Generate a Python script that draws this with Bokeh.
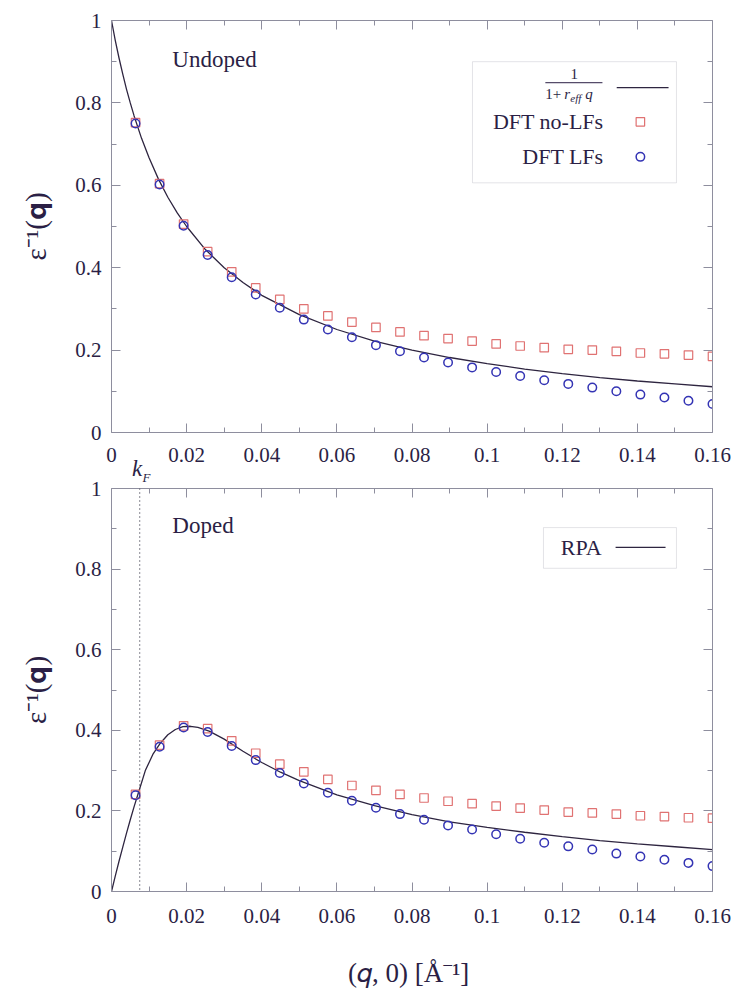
from bokeh.plotting import figure
from bokeh.models import (Range1d, FixedTicker, LinearAxis, Span, Label, BoxAnnotation,
                          CustomLabelingPolicy)
from bokeh.layouts import column
from bokeh.embed import file_html
from bokeh.resources import INLINE

# ---- data -------------------------------------------------------------
q_pts = [0.0064, 0.0128, 0.0192, 0.0256, 0.032, 0.0384, 0.0448, 0.0512, 0.0576,
         0.064, 0.0704, 0.0768, 0.0832, 0.0896, 0.096, 0.1024, 0.1088, 0.1152,
         0.1216, 0.128, 0.1344, 0.1408, 0.1472, 0.1536, 0.16]

undoped_nolf = [0.752, 0.604, 0.506, 0.439, 0.390, 0.351, 0.323, 0.300, 0.283,
                0.268, 0.255, 0.244, 0.235, 0.228, 0.222, 0.215, 0.210, 0.206,
                0.202, 0.200, 0.197, 0.193, 0.191, 0.188, 0.185]
undoped_lf = [0.750, 0.602, 0.502, 0.431, 0.377, 0.335, 0.303, 0.274, 0.250,
              0.231, 0.212, 0.197, 0.182, 0.170, 0.158, 0.147, 0.137, 0.127,
              0.118, 0.109, 0.100, 0.092, 0.085, 0.077, 0.069]

doped_nolf = [0.241, 0.363, 0.411, 0.404, 0.374, 0.343, 0.316, 0.297, 0.278,
              0.263, 0.251, 0.241, 0.232, 0.224, 0.218, 0.212, 0.207, 0.202,
              0.197, 0.195, 0.192, 0.188, 0.186, 0.183, 0.182]
doped_lf = [0.239, 0.359, 0.407, 0.396, 0.361, 0.326, 0.294, 0.268, 0.245,
            0.225, 0.208, 0.192, 0.178, 0.164, 0.154, 0.142, 0.131, 0.121,
            0.112, 0.104, 0.094, 0.087, 0.079, 0.071, 0.063]

# model screening 1/(1 + r_eff q), sampled
q_model = [0, 0.001, 0.002, 0.003, 0.004, 0.005, 0.006, 0.008, 0.01, 0.0125,
           0.015, 0.0175, 0.02, 0.025, 0.03, 0.035, 0.04, 0.05, 0.06, 0.07,
           0.08, 0.09, 0.1, 0.11, 0.12, 0.13, 0.14, 0.15, 0.16]
eps_model = [1.0, 0.952, 0.909, 0.870, 0.833, 0.800, 0.769, 0.714, 0.667, 0.615,
             0.571, 0.533, 0.500, 0.444, 0.400, 0.364, 0.333, 0.286, 0.250, 0.222,
             0.200, 0.182, 0.167, 0.154, 0.143, 0.133, 0.125, 0.118, 0.111]

# RPA for the doped system, sampled
q_rpa = [0, 0.001, 0.002, 0.003, 0.004, 0.005, 0.006, 0.007, 0.0075, 0.009,
         0.011, 0.013, 0.015, 0.017, 0.019, 0.021, 0.023, 0.026, 0.03, 0.035,
         0.04, 0.045, 0.05, 0.06, 0.07, 0.08, 0.09, 0.1, 0.11, 0.12, 0.13,
         0.14, 0.15, 0.16]
eps_rpa = [0.0, 0.038, 0.075, 0.110, 0.145, 0.178, 0.210, 0.240, 0.255, 0.300,
           0.340, 0.368, 0.389, 0.402, 0.409, 0.410, 0.407, 0.398, 0.378, 0.348,
           0.320, 0.296, 0.275, 0.240, 0.213, 0.191, 0.173, 0.159, 0.147, 0.136,
           0.126, 0.118, 0.111, 0.104]

k_F = 0.0075

x_ticks = [0, 0.02, 0.04, 0.06, 0.08, 0.1, 0.12, 0.14, 0.16]
x_tick_labels = ["0", "0.02", "0.04", "0.06", "0.08", "0.1", "0.12", "0.14", "0.16"]
x_minor = [0.01, 0.03, 0.05, 0.07, 0.09, 0.11, 0.13, 0.15]
y_ticks = [0, 0.2, 0.4, 0.6, 0.8, 1]
y_tick_labels = ["0", "0.2", "0.4", "0.6", "0.8", "1"]
y_minor = [0.1, 0.3, 0.5, 0.7, 0.9]

# ---- styles -----------------------------------------------------------
TXT = "#2b1f45"
AXC = "#8e8e9e"
CURVE = "#2e2540"
SQ = "#e07272"
CI = "#3434b4"
SERIF = "Liberation Serif"
MS = 8.5


def make_axis(ticks, minor, labels, show, standoff=10):
    ax = LinearAxis(ticker=FixedTicker(ticks=ticks, minor_ticks=minor))
    ax.axis_line_color = AXC
    ax.major_tick_line_color = AXC
    ax.minor_tick_line_color = AXC
    ax.major_tick_in = 9
    ax.major_tick_out = 0
    ax.minor_tick_in = 5
    ax.minor_tick_out = 0
    if show:
        ax.major_label_overrides = dict(zip(ticks, labels))
        ax.major_label_text_font = SERIF
        ax.major_label_text_font_size = "21px"
        ax.major_label_text_color = TXT
        ax.major_label_standoff = standoff
    else:
        # mirrored frame edge: ticks only
        ax.major_label_text_font_size = "0px"
        ax.major_label_standoff = 0
        ax.major_label_policy = CustomLabelingPolicy(code="return []")
    ax.axis_label_text_font = SERIF
    ax.axis_label_text_font_style = "normal"
    ax.axis_label_text_color = TXT
    return ax


def label_axis(ticks, labels, size, standoff, style="normal"):
    """An axis that only carries text (no line, no tick marks)."""
    ax = LinearAxis(ticker=FixedTicker(ticks=ticks, minor_ticks=[]))
    ax.axis_line_color = None
    ax.major_tick_line_color = None
    ax.minor_tick_line_color = None
    ax.major_tick_in = 0
    ax.major_tick_out = 0
    ax.minor_tick_in = 0
    ax.minor_tick_out = 0
    ax.major_label_overrides = dict(zip(ticks, labels))
    ax.major_label_text_font = SERIF
    ax.major_label_text_font_size = size
    ax.major_label_text_font_style = style
    ax.major_label_text_color = TXT
    ax.major_label_standoff = standoff
    return ax


def panel(top, bottom, frame_h, show_xlabels, xlabel=None):
    p = figure(width=754, frame_height=frame_h, x_range=Range1d(0, 0.16), y_range=Range1d(0, 1),
               output_backend="svg", toolbar_location=None,
               x_axis_type=None, y_axis_type=None,
               min_border_left=111, min_border_right=42,
               min_border_top=top, min_border_bottom=bottom)
    p.outline_line_color = None
    p.background_fill_color = "white"
    p.border_fill_color = "white"

    xb = make_axis(x_ticks, x_minor, x_tick_labels, show_xlabels, standoff=17)
    if xlabel:
        xb.axis_label = xlabel
        xb.axis_label_text_font_size = "27px"
        xb.axis_label_standoff = 32
    p.add_layout(xb, "below")
    p.add_layout(make_axis(x_ticks, x_minor, x_tick_labels, False), "above")

    yl = make_axis(y_ticks, y_minor, y_tick_labels, True)
    yl.axis_label = "\u03b5\u207b\u00b9(\U0001d42a)"
    yl.axis_label_text_font_size = "29px"
    yl.axis_label_standoff = 20
    p.add_layout(yl, "left")
    p.add_layout(make_axis(y_ticks, y_minor, y_tick_labels, False), "right")
    return p


def text(p, x, y, s, size, align="left", style="normal", xo=0, yo=0):
    p.add_layout(Label(x=x, y=y, text=s, text_font=SERIF, text_font_size=size,
                       text_color=TXT, text_align=align, text_baseline="middle",
                       text_font_style=style, x_offset=xo, y_offset=yo))


# ---- top panel: undoped -----------------------------------------------
p1 = panel(20, 12, 412, False)
p1.line(q_model, eps_model, line_color=CURVE, line_width=1.3)
p1.scatter(q_pts, undoped_nolf, marker="square", size=MS, fill_color=None,
           line_color=SQ, line_width=1.2)
p1.scatter(q_pts, undoped_lf, marker="circle", size=MS, fill_color=None,
           line_color=CI, line_width=1.5)
text(p1, 0.0162, 0.905, "Undoped", "23px")

# legend
p1.add_layout(BoxAnnotation(left=0.0961, right=0.1504, top=0.900, bottom=0.606,
                            fill_color="white", fill_alpha=1, line_color="#a2a2ae",
                            line_width=1, level="underlay"))
text(p1, 0.1232, 0.870, "1", "15px", align="center")
p1.segment(x0=[0.1155], y0=[0.849], x1=[0.1307], y1=[0.849], line_color=TXT, line_width=1)
text(p1, 0.1155, 0.822, "1+", "15px")
text(p1, 0.1155, 0.822, "r", "15px", style="italic", xo=19)
text(p1, 0.1155, 0.822, "eff", "11px", style="italic", xo=25, yo=-4)
text(p1, 0.1155, 0.822, "q", "15px", style="italic", xo=40)
p1.segment(x0=[0.1345], y0=[0.837], x1=[0.1483], y1=[0.837], line_color=CURVE, line_width=1.3)
text(p1, 0.1310, 0.754, "DFT no-LFs", "22px", align="right")
p1.scatter([0.1408], [0.754], marker="square", size=MS, fill_color=None,
           line_color=SQ, line_width=1.2)
text(p1, 0.1310, 0.669, "DFT LFs", "22px", align="right")
p1.scatter([0.1408], [0.669], marker="circle", size=MS, fill_color=None,
           line_color=CI, line_width=1.5)

# ---- bottom panel: doped ----------------------------------------------
p2 = panel(44, 113, 403, True, xlabel="(\U0001d45e, 0)  [\u00c5\u207b\u00b9]")
# the strip above this frame carries k_F and the upper panel's q tick labels
kF_sub_at = k_F + 0.0018
kF_k_at = k_F - 0.0007
p2.add_layout(label_axis([kF_sub_at], ["F"], "13px", 4, style="italic"), "above")
p2.add_layout(label_axis([kF_k_at], ["k"], "23px", -14, style="italic"), "above")
p2.add_layout(label_axis(x_ticks, x_tick_labels, "21px", -9), "above")

p2.line(q_rpa, eps_rpa, line_color=CURVE, line_width=1.3)
p2.scatter(q_pts, doped_nolf, marker="square", size=MS, fill_color=None,
           line_color=SQ, line_width=1.2)
p2.scatter(q_pts, doped_lf, marker="circle", size=MS, fill_color=None,
           line_color=CI, line_width=1.5)
p2.add_layout(Span(location=k_F, dimension="height", line_color="#3a3a4a",
                   line_dash="1 3", line_width=1.2))
text(p2, 0.0162, 0.908, "Doped", "23px")

p2.add_layout(BoxAnnotation(left=0.1150, right=0.1504, top=0.903, bottom=0.802,
                            fill_color="white", fill_alpha=1, line_color="#a2a2ae",
                            line_width=1, level="underlay"))
text(p2, 0.1196, 0.854, "RPA", "22px")
p2.segment(x0=[0.1342], y0=[0.854], x1=[0.1475], y1=[0.854], line_color=CURVE, line_width=1.3)

layout = column(p1, p2)
open("out.html", "w").write(file_html(layout, INLINE))
